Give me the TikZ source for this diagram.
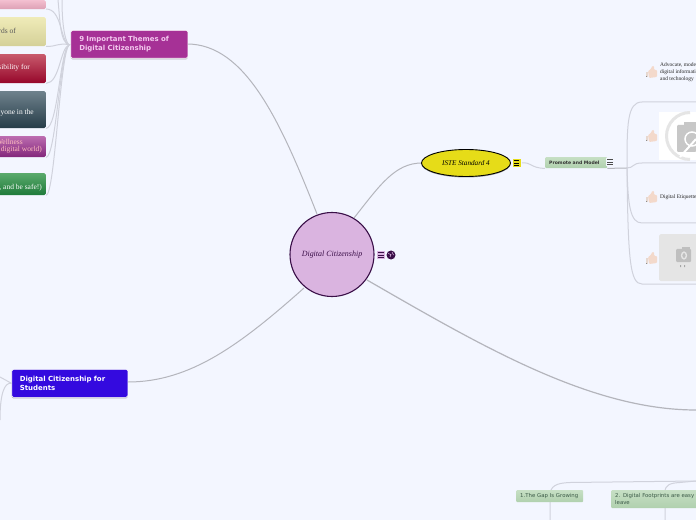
\documentclass[tikz,border=0pt]{standalone}
\usepackage{fontspec}
\setmainfont{Liberation Serif}
\newfontfamily\headfont{DejaVu Sans}
\usetikzlibrary{shadows,shapes.geometric}
\definecolor{bgc}{HTML}{F3F6FF}
\definecolor{mainline}{HTML}{B4B5BC}
\definecolor{subline}{HTML}{D0D2DC}
\definecolor{rootfill}{HTML}{DAB4E0}
\definecolor{rootedge}{HTML}{3A0F48}
\definecolor{themefill}{HTML}{A63196}
\definecolor{themetext}{HTML}{F3C8EE}
\definecolor{stufill}{HTML}{340ADF}
\definecolor{istefill}{HTML}{E6DC18}
\definecolor{greentop}{HTML}{C6DFC4}
\definecolor{greenbot}{HTML}{B0D0AE}
\definecolor{greentext}{HTML}{3C5A48}
\definecolor{thumbc}{HTML}{F3D9CB}
\definecolor{cuffc}{HTML}{E6D8D0}
\definecolor{pinkT}{HTML}{F3BFD0}\definecolor{pinkB}{HTML}{DDA0B4}
\definecolor{yelT}{HTML}{EFEBB8}\definecolor{yelB}{HTML}{D4D098}
\definecolor{redT}{HTML}{C85A6C}\definecolor{redB}{HTML}{96062A}
\definecolor{slateT}{HTML}{6E818C}\definecolor{slateB}{HTML}{263C48}
\definecolor{purT}{HTML}{BC6CB0}\definecolor{purB}{HTML}{82267A}
\definecolor{grnT}{HTML}{5AAA6C}\definecolor{grnB}{HTML}{1E7A3A}
\tikzset{
  x=1bp,y=-1bp,
  mainconn/.style={draw=mainline,line width=1bp},
  subconn/.style={draw=subline,line width=1bp},
  topic/.style={rounded corners=1.5bp,draw=white,line width=.6bp,
    drop shadow={shadow xshift=0bp,shadow yshift=-1bp,fill=black!60,opacity=.5},
    align=left,anchor=north west,inner xsep=8bp,inner ysep=0bp,text width=100bp,font=\headfont\bfseries\fontsize{7}{9.2}\selectfont},
  leaf/.style={rounded corners=1.5bp,anchor=north east,inner sep=0bp,minimum width=100bp},
  leaftext/.style={anchor=east,inner sep=0bp,font=\fontsize{7.5}{9}\selectfont},
  greenbox/.style={rounded corners=1bp,top color=greentop,bottom color=greenbot,anchor=north west,align=left,
    inner xsep=4bp,inner ysep=0bp,text=greentext,font=\headfont\fontsize{5.4}{6.6}\selectfont},
  tiny/.style={anchor=west,inner sep=0bp,align=left,font=\fontsize{5.5}{7}\selectfont,text=black!85},
}
\newcommand{\thumbicon}[2]{%
  \fill[thumbc,rounded corners=1bp] (#1-3,#2-1) -- (#1,#2-3) -- (#1+1,#2-6) -- (#1+3,#2-6) -- (#1+3,#2-2)
    -- (#1+6,#2-2) -- (#1+6,#2+5) -- (#1-2,#2+6) -- cycle;
  \fill[cuffc] (#1-5.5,#2) rectangle (#1-3,#2+5.5);
  \fill[black!45] (#1-5.5,#2+4.5) rectangle (#1-4.5,#2+5.5);
}
\newcommand{\menuicon}[4]{%
  \fill[#3] (#1-4,#2-4) rectangle (#1+4,#2+4);
  \foreach \dy in {-2.4,0,2.4}{\draw[#4,line width=.9bp] (#1-2.6,#2+\dy) -- (#1+2.6,#2+\dy);}
}
\begin{document}
\begin{tikzpicture}
\useasboundingbox (0,0) rectangle (696,520);
\clip (0,0) rectangle (696,520);
\fill[bgc] (0,0) rectangle (696,520);

% free ends
\coordinate (offright) at (696,410);
\coordinate (hubL) at (69,45);
\coordinate (hubR) at (627,168);
\coordinate (edgeA) at (696,102);
\coordinate (edgeB) at (696,163);
\coordinate (edgeC) at (696,223);
\coordinate (edgeD) at (696,284);
\coordinate (topA) at (58,0);
\coordinate (topB) at (62,0);
\coordinate (stuA) at (0,377);
\coordinate (stuB) at (0,420);
\coordinate (botA) at (550,520);
\coordinate (botB) at (665,520);
\coordinate (botEnd) at (696,481);
\coordinate (isteout) at (522,163);

% connectors under the nodes
\draw[mainconn] (317,214) .. controls (280,120) and (245,44) .. (187,44);
\draw[mainconn] (354,218) .. controls (380,185) and (395,163) .. (422,163);
\draw[mainconn] (304,288) .. controls (240,345) and (190,382) .. (128,382);
\draw[mainconn,line width=1.2bp] (367,280) .. controls (480,345) and (590,410) .. (offright);

% nodes
\node[circle,draw=rootedge,line width=1.1bp,fill=rootfill,minimum size=84bp,inner sep=0bp,text=rootedge,
  font=\itshape\fontsize{8}{9}\selectfont] (root) at (332,254.5) {\raisebox{-1bp}{Digital Citizenship}};
\node[topic,fill=themefill,text=themetext,minimum width=117bp,minimum height=28bp] (themes) at (70.5,30) {9 Important Themes of\\Digital Citizenship};
\node[topic,fill=stufill,text=white,minimum width=116bp,minimum height=28bp] (stu) at (11.5,369) {Digital Citizenship for\\Students};
\node[ellipse,draw=black,line width=.9bp,fill=istefill,minimum width=89bp,minimum height=27bp,inner sep=0bp,
  drop shadow={shadow xshift=0bp,shadow yshift=-1bp,fill=black!70,opacity=.5},
  font=\itshape\fontsize{7.2}{9}\selectfont] (iste) at (466,163) {ISTE Standard 4};
\node[greenbox,minimum width=60bp,minimum height=11bp,text width=54bp,font=\headfont\bfseries\fontsize{4.6}{6}\selectfont,text=black!80] (promote) at (545,157) {Promote and Model};

\node[leaf,top color=pinkT,bottom color=pinkB,minimum height=9bp] (l1) at (46,0) {};
\node[leaf,top color=yelT,bottom color=yelB,minimum height=29bp] (l2) at (46,17) {};
\node[leaf,top color=redT,bottom color=redB,minimum height=29bp] (l3) at (46,54) {};
\node[leaf,top color=slateT,bottom color=slateB,minimum height=37bp] (l4) at (46,91) {};
\node[leaf,top color=purT,bottom color=purB,minimum height=21bp] (l5) at (46,136) {};
\node[leaf,top color=grnT,bottom color=grnB,minimum height=22bp] (l6) at (46,173) {};
\node[leaftext,text=black!65] (t2) at (16,31) {rds of};
\node[leaftext,text=white] (t3) at (30,68) {sibility for};
\node[leaftext,text=white] (t4) at (34,113) {yone in the};
\node[leaftext,text=pink] (t5a) at (23,142) {Wellness};
\node[leaftext,text=pink] (t5b) at (42,150) {digital world)};
\node[leaftext,text=white] (t6) at (42,188) {, and be safe!)};

% images
\node[fill=white,minimum width=37bp,minimum height=48bp,inner sep=0bp,anchor=north west] (imgA) at (659,112) {};
\node[fill=black!10,rounded corners=1.5bp,minimum width=50bp,minimum height=47bp,inner sep=0bp,anchor=north west] (imgB) at (659,234) {};
\draw[black!10,line width=3bp] (690,112.5) arc[start angle=90,end angle=270,radius=23.5bp];
\fill[black!22,rounded corners=1bp] (677,125) rectangle (696,152);
\fill[black!22] (684,122) rectangle (696,126);
\draw[white,line width=1.5bp] (692,139) circle (7bp);
\draw[white,line width=2bp] (680,157) -- (696,139);
\fill[black!25,rounded corners=1bp] (676,249) rectangle (691,262);
\fill[black!25] (682,247) rectangle (690,250);
\draw[black!10,line width=1.4bp] (684,255.5) ellipse[x radius=2.4bp,y radius=3.4bp];
\fill[black!35] (680,265) rectangle (681,267) (684,265) rectangle (685,267);

% text
\node[tiny] (advA) at (660,65.5) {Advocate, model};
\node[tiny] (advB) at (660,72) {digital information};
\node[tiny] (advC) at (660,79) {and technology};
\node[tiny] (etiq) at (660,197) {Digital Etiquette};

% branch connectors
\draw[subconn] (isteout) .. controls (532,162) and (530,168) .. (promote.south west);
\draw[mainconn] (promote.south east) -- (hubR);
\draw[subconn] (hubR) .. controls (627,125) and (627,102) .. (642,102) -- (edgeA);
\draw[subconn] (hubR) .. controls (634,168) and (632,163) .. (642,163) -- (edgeB);
\draw[subconn] (hubR) .. controls (628,205) and (630,223) .. (642,223) -- (edgeC);
\draw[subconn] (hubR) .. controls (628,260) and (630,284) .. (642,284) -- (edgeD);

\draw[subconn] (themes.west) -- (hubL);
\draw[subconn] (hubL) .. controls (60,42) and (60,20) .. (topA);
\draw[subconn] (hubL) .. controls (64,40) and (62,20) .. (topB);
\draw[subconn] (hubL) .. controls (60,40) and (62,9) .. (46,9);
\draw[subconn] (hubL) .. controls (60,42) and (56,47) .. (l2.south east);
\draw[subconn] (hubL) .. controls (60,48) and (60,83) .. (l3.south east);
\draw[subconn] (hubL) .. controls (60,50) and (58,128) .. (l4.south east);
\draw[subconn] (hubL) .. controls (60,52) and (56,157) .. (l5.south east);
\draw[subconn] (hubL) .. controls (60,54) and (55,195) .. (l6.south east);

\draw[subconn] (stu.west) -- (stuA);
\draw[subconn] (stu.west) .. controls (4,382) and (0,395) .. (stuB);

\draw[subconn] (botA) -- (550,496) .. controls (550,486) and (556,483) .. (570,482.5) -- (botEnd);
\draw[subconn] (botB) -- (665,492) .. controls (665,485) and (670,483) .. (680,482.5) -- (botEnd);

\node[greenbox,minimum width=67bp,minimum height=12bp,text width=59bp] (gap) at (516,490) {1.The Gap Is Growing};
\node[greenbox,minimum width=100bp,minimum height=18bp,text width=92bp] (foot) at (611,490) {2. Digital Footprints are easy to\\leave};

% icons
\menuicon{381}{255}{rootfill}{rootedge}
\fill[rootedge] (391,255) circle (4.5bp);
\draw[rootfill,line width=.6bp] (388,253.5) -- (391,254.5) -- (390,257) (392,252) -- (393.5,255);
\menuicon{516.5}{163}{istefill}{black}
\menuicon{610}{162}{bgc}{black!70}
\thumbicon{651}{72}
\thumbicon{651}{136}
\thumbicon{651}{197}
\thumbicon{651}{258}
\end{tikzpicture}
\end{document}
